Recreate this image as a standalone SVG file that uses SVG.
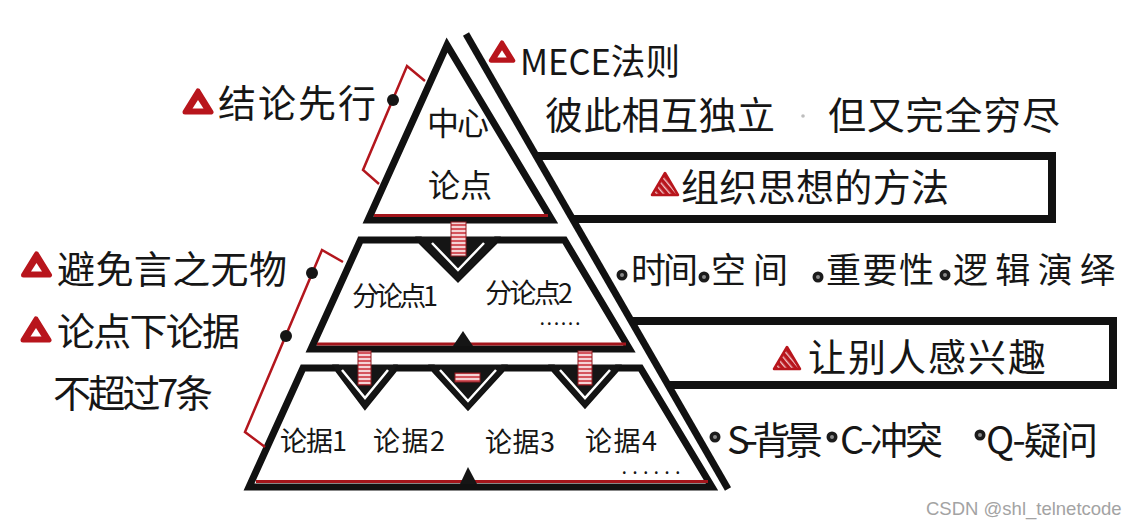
<svg xmlns="http://www.w3.org/2000/svg" width="1140" height="527" viewBox="0 0 1140 527">
<style>
.t{font-family:"Noto Sans CJK SC","Liberation Sans",sans-serif;fill:#161616}
.big{font-size:38px}
.m35{font-size:35px}
.mid{font-size:32px}
.sm{font-size:27px}
.edge{fill:#fff;stroke:#111;stroke-width:7;stroke-linejoin:miter}
.line{fill:none;stroke:#111;stroke-width:7}
.box{fill:none;stroke:#111;stroke-width:8;stroke-linejoin:miter}
.redb{fill:none;stroke:#b3161d;stroke-width:2.5;stroke-linejoin:miter}
.rim{stroke:#a3151b;stroke-width:3}
.wv{fill:none;stroke:#fff;stroke-width:2.5}
.dot{fill:#151515}
.stem{fill:url(#stripe);stroke:#8e1b20;stroke-width:1}
</style>
<defs>
<pattern id="stripe" width="6" height="4" patternUnits="userSpaceOnUse"><rect width="6" height="4" fill="#f4d3d5"/><rect width="6" height="2" fill="#d4545c"/></pattern>
<pattern id="hatch" width="5" height="5" patternUnits="userSpaceOnUse" patternTransform="rotate(-40)"><rect width="5" height="5" fill="#b8151c"/><rect width="1.4" height="5" fill="#f2c4c7"/></pattern>
<symbol id="tri" viewBox="0 0 32 28" overflow="visible"><polygon points="16,3 29,24 3,24" fill="#b8151c" stroke="#b8151c" stroke-width="5" stroke-linejoin="round"/><polygon points="16,12 21.5,20.5 10.5,20.5" fill="#fff"/></symbol>
<symbol id="trih" viewBox="0 0 30 26" overflow="visible"><polygon points="15,2 28,24 2,24" fill="url(#hatch)" stroke="#b8151c" stroke-width="2.5" stroke-linejoin="round"/></symbol>
<symbol id="bul" viewBox="0 0 12 12" overflow="visible"><circle cx="6" cy="6" r="5.5" fill="#1b1b1b"/><circle cx="6" cy="6" r="2" fill="#8a8a8a"/></symbol>
</defs>
<rect width="1140" height="527" fill="#fff"/>

<g id="outer-line">
<line class="line" x1="466" y1="34" x2="728" y2="489"/>
</g>

<g id="box1">
<path class="box" d="M536,156 H1052 V219 H572"/>
<use href="#trih" x="650" y="171" width="30" height="26"/>
<text class="t big" x="681" y="201" textLength="268" lengthAdjust="spacing">组织思想的方法</text>
</g>

<g id="box2">
<path class="box" d="M631,321 H1113 V385 H668"/>
<use href="#trih" x="772" y="345" width="30" height="26"/>
<text class="t big" x="808" y="371" textLength="238" lengthAdjust="spacing">让别人感兴趣</text>
</g>

<g id="node-top">
<polygon class="edge" points="447,45 552,220 368,220"/>
<line class="rim" x1="374" y1="215.5" x2="548" y2="215.5"/>
<text class="t mid" x="427" y="135" textLength="62" lengthAdjust="spacing">中心</text>
<text class="t mid" x="428" y="197" textLength="64" lengthAdjust="spacing">论点</text>
</g>

<g id="node-band2">
<polygon class="edge" points="360.5,240 420,240 458,278 496,240 564.5,240 629.5,349 311,349"/>
<line class="rim" x1="317" y1="344" x2="626" y2="344"/>
<polygon class="dot" points="453,346 473,346 463,331"/>
<text class="t sm" x="352" y="306" textLength="86" lengthAdjust="spacing">分论点1</text>
<text class="t sm" x="485" y="303" textLength="88" lengthAdjust="spacing">分论点2</text>
<text class="t" x="540" y="325" font-size="14" font-weight="bold" textLength="40" lengthAdjust="spacing">......</text>
</g>

<g id="node-band3">
<polygon class="edge" points="303,368 337,368 365,405 395,368 433,368 468,406 503,368 553,368 585,404 617,368 640.5,368 712,487 249,487"/>
<line class="rim" x1="256" y1="481.5" x2="708" y2="481.5"/>
<polygon class="dot" points="460,484 477,484 468,467"/>
<text class="t sm" x="280" y="451" textLength="67" lengthAdjust="spacing">论据1</text>
<text class="t sm" x="373" y="451" textLength="72" lengthAdjust="spacing">论据2</text>
<text class="t sm" x="485" y="452" textLength="70" lengthAdjust="spacing">论据3</text>
<text class="t sm" x="585" y="451" textLength="72" lengthAdjust="spacing">论据4</text>
<text class="t" x="622" y="474" font-size="14" font-weight="bold" textLength="58" lengthAdjust="spacing">......</text>
</g>

<g id="connectors">
<polygon class="dot" points="415,236.5 501,236.5 458,282"/>
<polyline class="wv" points="432,243 458,270 484,243"/>
<rect class="stem" x="451" y="222" width="15" height="34"/>
<polygon class="dot" points="332,364.5 398,364.5 365,409"/>
<polyline class="wv" points="342,370 365,398 388,370"/>
<rect class="stem" x="358" y="351" width="13" height="34"/>
<polygon class="dot" points="428,364.5 508,364.5 468,410"/>
<polyline class="wv" points="440,370 468,401 496,370"/>
<rect class="stem" x="455" y="373" width="25" height="9"/>
<polygon class="dot" points="548,364.5 622,364.5 585,408"/>
<polyline class="wv" points="560,370 585,398 610,370"/>
<rect class="stem" x="578" y="351" width="14" height="34"/>
<polyline class="redb" points="425,81 407,66 363,170 379,184"/>
<circle class="dot" cx="393" cy="100" r="6"/>
<polyline class="redb" points="343,262 322,250 245,432 265,447"/>
<circle class="dot" cx="312" cy="273" r="6"/>
<circle class="dot" cx="286" cy="336" r="6"/>
</g>

<g id="label-jielun">
<use href="#tri" x="182" y="88" width="32" height="28"/>
<text class="t big" x="218" y="117" textLength="158" lengthAdjust="spacing">结论先行</text>
</g>

<g id="label-mece">
<use href="#tri" x="488" y="40" width="28" height="24"/>
<text class="t" x="520" y="75" font-size="36" textLength="160" lengthAdjust="spacingAndGlyphs">MECE法则</text>
<text class="t big" x="545" y="129" textLength="230" lengthAdjust="spacing">彼此相互独立</text>
<circle cx="803" cy="116" r="1.8" fill="#bdbdbd"/>
<text class="t big" x="828" y="129" textLength="232" lengthAdjust="spacing">但又完全穷尽</text>
</g>

<g id="label-methods">
<use href="#bul" x="616" y="269" width="12" height="12"/>
<text class="t m35" x="631" y="283" textLength="67" lengthAdjust="spacing">时间</text>
<use href="#bul" x="698" y="271" width="12" height="12"/>
<text class="t m35" x="711" y="283" textLength="77" lengthAdjust="spacing">空间</text>
<use href="#bul" x="812" y="271" width="12" height="12"/>
<text class="t m35" x="826" y="283" textLength="108" lengthAdjust="spacing">重要性</text>
<use href="#bul" x="939" y="269" width="12" height="12"/>
<text class="t m35" x="953" y="283" textLength="162" lengthAdjust="spacing">逻辑演绎</text>
</g>

<g id="label-avoid">
<use href="#tri" x="20" y="251" width="33" height="28"/>
<text class="t big" x="57" y="283" textLength="230" lengthAdjust="spacing">避免言之无物</text>
</g>

<g id="label-limit">
<use href="#tri" x="20" y="316" width="32" height="28"/>
<text class="t big" x="57" y="345" textLength="183" lengthAdjust="spacing">论点下论据</text>
<text class="t big" x="53" y="407" textLength="160" lengthAdjust="spacing">不超过7条</text>
</g>

<g id="label-scq">
<use href="#bul" x="709" y="431" width="12" height="12"/>
<text class="t big" x="727" y="454" textLength="96" lengthAdjust="spacing">S-背景</text>
<use href="#bul" x="826" y="431" width="12" height="12"/>
<text class="t big" x="840" y="454" textLength="103" lengthAdjust="spacing">C-冲突</text>
<use href="#bul" x="974" y="429" width="12" height="12"/>
<text class="t big" x="986" y="454" textLength="112" lengthAdjust="spacing">Q-疑问</text>
</g>

<text x="926" y="515" font-family="Liberation Sans, Arial, sans-serif" font-size="18.5" fill="#a3a3a3">CSDN @shl_telnetcode</text>
</svg>
